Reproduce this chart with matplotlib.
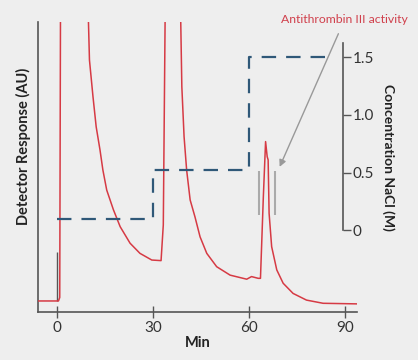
import matplotlib.pyplot as plt
import numpy as np

plt.rcParams['font.family'] = ['Lato', 'DejaVu Sans']

# detector trace (arbitrary units, values above 100 run off the top)
t_min = [-6, 0.4, 0.8, 1.1, 1.6,
         9.06, 10.1, 11.2, 12.2, 13.4, 14.3, 15.5, 17.6, 19.7, 22.8, 25.9, 29.6, 32.5,
         33.2, 34.0, 38.2, 39.0, 39.7, 40.5, 41.6, 43.1, 44.7, 46.8, 49.9, 54.1,
         59.3, 60.8, 62.9, 63.6, 64.5, 65.2, 65.7, 66.0, 66.3, 67.1, 68.7, 70.7,
         73.8, 78.0, 83.2, 93.7]
response = [3.8, 3.8, 5.0, 130, 130,
            130, 86.8, 74.2, 63.8, 55.8, 48.9, 42.0, 35.2, 29.4, 23.7, 20.2, 17.9, 17.7,
            30.0, 130, 130, 77.6, 60.4, 48.9, 38.6, 32.8, 25.9, 20.2, 15.6, 12.7,
            11.3, 12.2, 11.6, 11.6, 39.7, 58.7, 53.5, 52.4, 34.0, 22.5, 14.5, 9.9,
            6.4, 4.1, 3.0, 2.8]

# NaCl step gradient
step_t = [0, 30, 30, 60, 60, 85.3]
step_c = [0.1, 0.1, 0.52, 0.52, 1.5, 1.5]

xticks = [0, 30, 60, 90]
cticks = [0, 0.5, 1.0, 1.5]
cticklabels = ['0', '0.5', '1.0', '1.5']

bg = '#eeeeee'
fig = plt.figure(figsize=(4.18, 3.6), dpi=100, facecolor=bg)
ax = fig.add_axes([38 / 418, 1 - 312 / 360, (357 - 38) / 418, (312 - 21.7) / 360])
ax.set_facecolor(bg)
ax.set_xlim(-6, 93.8)
ax.set_ylim(0, 100)

ax.plot(t_min, response, color='#d63a44', lw=1.1, zorder=3)

# fraction / injection markers
ax.vlines(0, 3.8, 20.7, color='#555555', lw=1.0)
ax.vlines([63.1, 68.3], 33.4, 48.4, color='#aaaaaa', lw=1.5)

for s in ['top', 'right']:
    ax.spines[s].set_visible(False)
for s in ['left', 'bottom']:
    ax.spines[s].set_color('#555555')
    ax.spines[s].set_linewidth(1.2)
ax.set_yticks([])
ax.set_xticks(xticks)
ax.tick_params(axis='x', direction='inout', length=9, width=1, color='#555555',
               labelsize=11, labelcolor='#333333', pad=2)
ax.set_xlabel('Min', fontsize=10.5, fontweight='bold', color='#222222', labelpad=1)
fig.text(23 / 418, 1 - 146 / 360, 'Detector Response (AU)', rotation=90,
         ha='center', va='center', fontsize=10.5, fontweight='bold', color='#222222')

ax2 = ax.twinx()
ax2.set_ylim(-0.709, 1.809)
ax2.plot(step_t, step_c, color='#2f5878', lw=1.6, ls=(0, (6.5, 4.5)), zorder=2)
for s in ['top', 'left', 'bottom']:
    ax2.spines[s].set_visible(False)
ax2.spines['right'].set_position(('data', 89.3))
ax2.spines['right'].set_bounds(0, 1.62)
ax2.spines['right'].set_color('#555555')
ax2.spines['right'].set_linewidth(1.2)
ax2.set_yticks(cticks)
ax2.set_yticklabels(cticklabels)
ax2.tick_params(axis='y', direction='out', length=6, width=1, color='#555555',
                labelsize=11, labelcolor='#333333', pad=1)
fig.text(388 / 418, 1 - 157 / 360, 'Concentration NaCl (M)', rotation=270,
         ha='center', va='center', fontsize=10, fontweight='bold', color='#222222')

ax.annotate('Antithrombin III activity', xy=(69.6, 50.0), xytext=(90.0, 100.9),
            textcoords='data', ha='center', va='center', fontsize=8.8,
            color='#d0404c', annotation_clip=False,
            arrowprops=dict(arrowstyle='-|>', color='#999999', lw=1.0,
                            shrinkA=5, shrinkB=0, mutation_scale=10))

fig.savefig('out.png', dpi=100, facecolor=bg)
